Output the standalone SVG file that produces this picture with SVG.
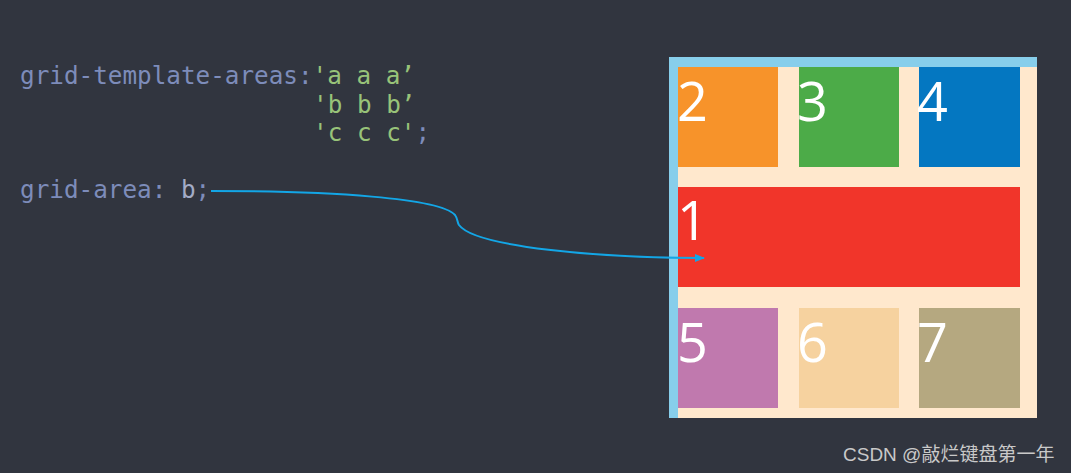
<svg xmlns="http://www.w3.org/2000/svg" width="1071" height="473" viewBox="0 0 1071 473">
  <style>
    .code { font-family: "DejaVu Sans Mono", "Liberation Mono", monospace; font-size: 24.3px; white-space: pre; }
    .prop { fill: #7d8cba; }
    .str { fill: #98c379; }
    .val { fill: #a3acc6; }
    .num { font-family: "Open Sans", "Noto Sans", sans-serif; font-size: 54px; fill: #ffffff; }
    .wm { font-family: "Liberation Sans", "Noto Sans CJK SC", sans-serif; font-size: 19px; fill: #c9c9c9; }
  </style>
  <defs>
    <marker id="arr" viewBox="0 0 10 10" refX="9" refY="5" markerWidth="5" markerHeight="5" orient="auto" markerUnits="strokeWidth">
      <path d="M0,1 L10,5 L0,9 z" fill="#13a6e6"/>
    </marker>
  </defs>
  <rect width="1071" height="473" fill="#31353f"/>

  <g id="code">
    <text class="code" y="84"><tspan class="prop" x="20">grid-template-areas:</tspan><tspan class="str">'a a a’</tspan></text>
    <text class="code str" x="313" y="113">'b b b’</text>
    <text class="code" y="141"><tspan class="str" x="313">'c c c'</tspan><tspan class="prop">;</tspan></text>
    <text class="code" y="198"><tspan class="prop" x="20">grid-area: </tspan><tspan class="val">b</tspan><tspan class="prop">;</tspan></text>
  </g>

  <g id="container">
    <rect x="669" y="57" width="368" height="361" fill="#ffe8cd"/>
    <rect x="669" y="57" width="368" height="10" fill="#87ceeb"/>
    <rect x="669" y="57" width="9" height="361" fill="#87ceeb"/>
  </g>

  <g id="item2"><rect x="678" y="67" width="100" height="100" fill="#f7932a"/><text class="num" x="677" y="121">2</text></g>
  <g id="item3"><rect x="799" y="67" width="100" height="100" fill="#4cab48"/><text class="num" x="797" y="121">3</text></g>
  <g id="item4"><rect x="919" y="67" width="101" height="100" fill="#0477c1"/><text class="num" x="917" y="121">4</text></g>
  <g id="item1"><rect x="678" y="187" width="342" height="100" fill="#f1352a"/><text class="num" x="677" y="240">1</text></g>
  <g id="item5"><rect x="678" y="308" width="100" height="100" fill="#c079ae"/><text class="num" x="677" y="362">5</text></g>
  <g id="item6"><rect x="799" y="308" width="100" height="100" fill="#f6d29f"/><text class="num" x="797" y="362">6</text></g>
  <g id="item7"><rect x="919" y="308" width="101" height="100" fill="#b5a880"/><text class="num" x="917" y="362">7</text></g>

  <g id="connectors">
    <path d="M211,191 C330,191 440,198 455,215 C458,219 457,222 459,225 C475,247 600,258 704,258" fill="none" stroke="#13a6e6" stroke-width="2" marker-end="url(#arr)"/>
  </g>

  <text class="wm" x="843" y="461">CSDN @敲烂键盘第一年</text>
</svg>
